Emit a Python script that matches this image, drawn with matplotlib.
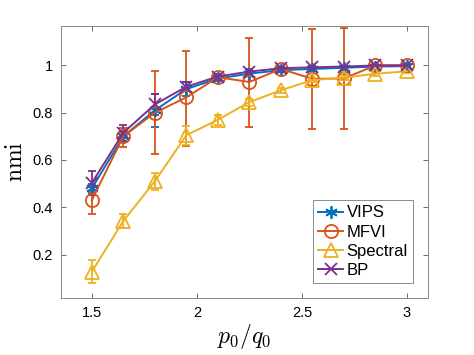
import numpy as np
import matplotlib
matplotlib.use("Agg")
import matplotlib.pyplot as plt

plt.rcParams["font.family"] = ["Liberation Sans", "DejaVu Sans"]
plt.rcParams["mathtext.fontset"] = "cm"

ratio = [1.5, 1.65, 1.8, 1.95, 2.1, 2.25, 2.4, 2.55, 2.7, 2.85, 3.0]

vips = [0.48, 0.70, 0.81, 0.90, 0.945, 0.965, 0.98, 0.985, 0.99, 0.995, 0.997]
vips_err = [0.02, 0.02, 0.07, 0.03, 0.01, 0.01, 0.01, 0.005, 0.005, 0.003, 0.003]

mfvi = [0.43, 0.70, 0.80, 0.865, 0.95, 0.93, 0.985, 0.943, 0.945, 1.0, 1.0]
mfvi_lo = [0.06, 0.045, 0.175, 0.205, 0.015, 0.19, 0.01, 0.21, 0.215, 0.005, 0.005]
mfvi_hi = [0.035, 0.035, 0.175, 0.195, 0.015, 0.185, 0.01, 0.21, 0.215, 0.005, 0.005]

spectral = [0.128, 0.342, 0.51, 0.705, 0.77, 0.845, 0.895, 0.938, 0.948, 0.965, 0.975]
spectral_err = [0.05, 0.03, 0.035, 0.04, 0.02, 0.015, 0.01, 0.01, 0.01, 0.01, 0.008]

bp = [0.503, 0.715, 0.835, 0.91, 0.953, 0.974, 0.988, 0.992, 0.995, 1.0, 1.0]
bp_err = [0.05, 0.035, 0.045, 0.02, 0.01, 0.01, 0.005, 0.005, 0.003, 0.003, 0.003]

fig = plt.figure(figsize=(4.74, 3.55), dpi=100)
ax = fig.add_axes([0.129, 0.161, 0.774, 0.766])

blue = "#0072BD"
orange = "#D95319"
yellow = "#EDB120"
purple = "#7E2F8E"

common = dict(lw=1.4, capsize=2.6, elinewidth=1.3, capthick=1.3,
              markerfacecolor="none", markeredgewidth=1.3)

# asterisk marker like MATLAB's '*'
h1 = ax.errorbar(ratio, vips, yerr=vips_err, color=blue, marker=(6, 2, 0),
                 markersize=9, label="VIPS", **common)
h2 = ax.errorbar(ratio, mfvi, yerr=[mfvi_lo, mfvi_hi], color=orange, marker="o",
                 markersize=9.5, label="MFVI", **common)
h3 = ax.errorbar(ratio, spectral, yerr=spectral_err, color=yellow, marker="^",
                 markersize=9.5, label="Spectral", **common)
h4 = ax.errorbar(ratio, bp, yerr=bp_err, color=purple, marker="x",
                 markersize=8, label="BP", **common)

ax.set_xlim(1.354, 3.1)
ax.set_ylim(0.017, 1.167)
ax.set_xticks([1.5, 2, 2.5, 3])
ax.set_xticklabels(["1.5", "2", "2.5", "3"])
ax.set_yticks([0.2, 0.4, 0.6, 0.8, 1])
ax.set_yticklabels(["0.2", "0.4", "0.6", "0.8", "1"])
ax.tick_params(direction="in", top=True, right=True, length=3.5, width=0.6,
               color="#555555", labelsize=10.5, pad=6)
for sp in ax.spines.values():
    sp.set_color("#8a8a8a")
    sp.set_linewidth(0.7)

ax.set_xlabel(r"$p_0/q_0$", fontsize=17, labelpad=1)
ax.set_ylabel(r"$\mathrm{nmi}$", fontsize=17, labelpad=4)

leg = ax.legend([h1[0], h2[0], h3[0], h4[0]], ["VIPS", "MFVI", "Spectral", "BP"],
                loc="lower right", fontsize=12, fancybox=False, framealpha=1,
                edgecolor="#8a8a8a", handlelength=1.5, handletextpad=0.2,
                borderpad=0.3, labelspacing=0.25, borderaxespad=0.9)
leg.get_frame().set_linewidth(0.7)

fig.savefig("out.png", dpi=100)
